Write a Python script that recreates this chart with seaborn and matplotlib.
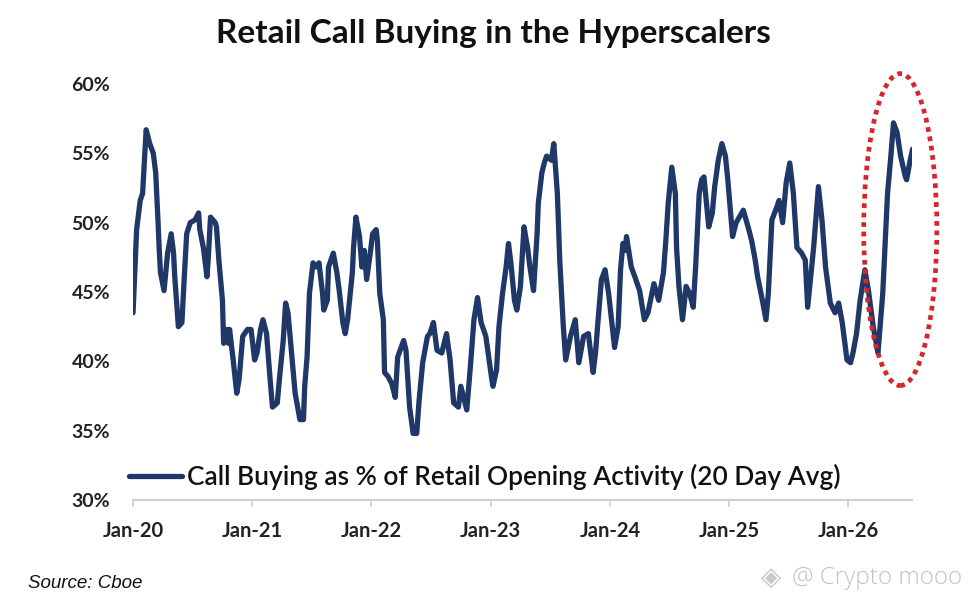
import numpy as np
import pandas as pd
import matplotlib
matplotlib.use("Agg")
import matplotlib.pyplot as plt
import matplotlib.dates as mdates
from matplotlib.patches import Ellipse
import seaborn as sns

# ---- data (decimal years, % values) ----
years = [
    2020.00, 2020.03, 2020.06, 2020.08, 2020.09, 2020.11, 2020.14, 2020.17, 2020.19, 2020.21,
    2020.22, 2020.23, 2020.26, 2020.29, 2020.32, 2020.34, 2020.35, 2020.38, 2020.41, 2020.43,
    2020.45, 2020.48, 2020.52, 2020.55, 2020.56, 2020.59, 2020.62, 2020.63, 2020.65, 2020.69,
    2020.70, 2020.72, 2020.75, 2020.76, 2020.79, 2020.80, 2020.81, 2020.84, 2020.87, 2020.89,
    2020.92, 2020.96, 2020.99, 2021.02, 2021.04, 2021.07, 2021.09, 2021.12, 2021.15, 2021.17,
    2021.21, 2021.23, 2021.26, 2021.28, 2021.30, 2021.33, 2021.36, 2021.40, 2021.43, 2021.44,
    2021.46, 2021.48, 2021.51, 2021.54, 2021.56, 2021.59, 2021.60, 2021.63, 2021.64, 2021.68,
    2021.71, 2021.73, 2021.76, 2021.78, 2021.80, 2021.84, 2021.85, 2021.87, 2021.90, 2021.92,
    2021.94, 2021.96, 2021.99, 2022.01, 2022.04, 2022.05, 2022.07, 2022.10, 2022.11, 2022.14,
    2022.17, 2022.20, 2022.22, 2022.27, 2022.29, 2022.32, 2022.35, 2022.38, 2022.40, 2022.43,
    2022.47, 2022.49, 2022.52, 2022.55, 2022.59, 2022.63, 2022.66, 2022.69, 2022.73, 2022.75,
    2022.80, 2022.83, 2022.86, 2022.89, 2022.92, 2022.96, 2023.01, 2023.02, 2023.05, 2023.07,
    2023.10, 2023.13, 2023.15, 2023.17, 2023.20, 2023.22, 2023.25, 2023.28, 2023.31, 2023.33,
    2023.36, 2023.39, 2023.40, 2023.43, 2023.45, 2023.47, 2023.51, 2023.53, 2023.56, 2023.58,
    2023.61, 2023.63, 2023.67, 2023.71, 2023.74, 2023.78, 2023.82, 2023.86, 2023.88, 2023.90,
    2023.93, 2023.96, 2023.99, 2024.04, 2024.07, 2024.09, 2024.11, 2024.13, 2024.14, 2024.18,
    2024.21, 2024.25, 2024.29, 2024.32, 2024.37, 2024.41, 2024.45, 2024.47, 2024.49, 2024.52,
    2024.55, 2024.56, 2024.58, 2024.61, 2024.64, 2024.67, 2024.70, 2024.72, 2024.75, 2024.77,
    2024.79, 2024.83, 2024.86, 2024.88, 2024.91, 2024.94, 2024.97, 2024.99, 2025.03, 2025.06,
    2025.12, 2025.16, 2025.19, 2025.22, 2025.24, 2025.28, 2025.31, 2025.33, 2025.36, 2025.40,
    2025.42, 2025.45, 2025.48, 2025.51, 2025.54, 2025.57, 2025.61, 2025.64, 2025.66, 2025.71,
    2025.75, 2025.78, 2025.81, 2025.85, 2025.89, 2025.92, 2025.95, 2025.99, 2026.02, 2026.04,
    2026.07, 2026.10, 2026.14, 2026.17, 2026.21, 2026.25, 2026.29, 2026.33, 2026.36, 2026.38,
    2026.41, 2026.44, 2026.48, 2026.49, 2026.52, 2026.54,
]
call_pct = [
    43.5, 49.5, 51.6, 52.1, 53.6, 56.7, 55.7, 55.0, 53.6, 50.0,
    48.0, 46.4, 45.1, 47.8, 49.2, 47.8, 46.1, 42.5, 42.8, 46.1,
    49.2, 50.0, 50.2, 50.7, 49.5, 48.2, 46.1, 47.3, 50.4, 50.0,
    49.7, 47.3, 44.4, 41.3, 42.3, 41.3, 42.3, 40.1, 37.7, 38.7,
    41.8, 42.3, 42.3, 40.1, 40.6, 42.3, 43.0, 42.0, 38.7, 36.7,
    37.0, 38.9, 41.5, 44.2, 43.5, 40.6, 37.7, 35.8, 35.8, 38.2,
    40.3, 44.9, 47.1, 46.8, 47.1, 44.9, 43.7, 44.4, 46.8, 47.8,
    46.4, 45.1, 42.8, 42.0, 43.0, 46.4, 48.2, 50.4, 49.0, 46.8,
    48.0, 45.9, 47.8, 49.2, 49.5, 48.7, 44.9, 43.0, 39.2, 38.9,
    38.4, 37.4, 40.3, 41.5, 40.8, 36.7, 34.8, 34.8, 37.2, 39.9,
    41.8, 42.0, 42.8, 40.8, 40.6, 42.0, 40.1, 37.0, 36.7, 38.2,
    36.5, 39.6, 43.0, 44.6, 42.8, 41.8, 38.7, 38.2, 39.4, 42.5,
    44.9, 46.8, 48.5, 47.1, 44.4, 43.7, 45.4, 49.7, 48.2, 46.8,
    45.1, 49.2, 51.4, 53.6, 54.3, 54.8, 54.5, 55.7, 52.1, 47.3,
    42.5, 40.1, 41.8, 43.0, 39.9, 41.8, 42.0, 39.2, 40.6, 42.8,
    45.9, 46.6, 44.9, 41.0, 42.5, 46.6, 48.5, 48.0, 49.0, 46.8,
    46.1, 45.1, 43.0, 43.5, 45.6, 44.4, 46.4, 48.7, 51.4, 54.0,
    52.1, 48.2, 45.4, 43.0, 45.4, 44.9, 43.9, 46.8, 52.1, 53.1,
    53.3, 49.7, 50.7, 52.6, 54.5, 55.7, 54.8, 53.1, 49.0, 50.0,
    50.9, 49.7, 48.7, 47.3, 46.1, 44.4, 43.0, 44.9, 50.2, 51.1,
    51.6, 50.0, 52.9, 54.3, 52.1, 48.2, 47.8, 47.3, 43.9, 48.2,
    52.6, 50.2, 46.8, 44.2, 43.5, 44.2, 42.8, 40.1, 39.9, 40.6,
    42.0, 44.4, 46.6, 45.1, 42.5, 40.6, 44.9, 52.1, 55.0, 57.2,
    56.5, 54.8, 53.3, 53.1, 54.5, 55.3,
]
tick_years = [2020, 2021, 2022, 2023, 2024, 2025, 2026]
tick_labels = ["Jan-20", "Jan-21", "Jan-22", "Jan-23", "Jan-24", "Jan-25", "Jan-26"]
y_ticks = [30, 35, 40, 45, 50, 55, 60]
series_label = "Call Buying as % of Retail Opening Activity (20 Day Avg)"
title = "Retail Call Buying in the Hyperscalers"
source = "Source: Cboe"
watermark = "@ Crypto mooo"

def to_date(y):
    y = np.asarray(y, dtype=float)
    return pd.to_datetime("2020-01-01") + pd.to_timedelta((y - 2020.0) * 365.25, unit="D")

df = pd.DataFrame({"date": to_date(years), "pct": call_pct})

sns.set_theme(style="white")
plt.rcParams["font.family"] = ["Lato", "DejaVu Sans"]

navy = "#1f3868"
fig = plt.figure(figsize=(9.74, 6.03), dpi=100)
ax = fig.add_axes([0.1366, 0.1708, 0.7997, 0.6899])

sns.lineplot(data=df, x="date", y="pct", ax=ax, color=navy, linewidth=3.8,
             label=series_label, solid_joinstyle="round")

ax.set_ylim(30, 60)
ax.set_xlim(to_date([2020.0])[0], to_date([2026.535])[0])
ax.set_yticks(y_ticks)
ax.set_yticklabels([f"{v}%" for v in y_ticks], fontsize=14, fontweight="bold", color="#222222")
ax.set_xticks(to_date(tick_years))
ax.set_xticklabels(tick_labels, fontsize=14.5, fontweight="bold", color="#222222")
ax.set_xlabel("")
ax.set_ylabel("")
for s in ["top", "right", "left"]:
    ax.spines[s].set_visible(False)
ax.spines["bottom"].set_color("#d0d0d0")
ax.spines["bottom"].set_linewidth(1.5)
ax.tick_params(axis="x", which="major", bottom=True, length=5, width=1.2, color="#d0d0d0", pad=10)
ax.tick_params(axis="y", which="major", left=False, length=0, pad=16.5)
ax.grid(False)

# dotted red ellipse around recent surge
c = mdates.date2num(to_date([2026.437])[0])
ell = Ellipse((c, 49.5), width=224, height=22.5, fill=False, edgecolor="#d7262b",
              linewidth=3.4, linestyle=(0, (1, 1)), clip_on=False, zorder=5)
ax.add_patch(ell)

leg = ax.legend(loc="center left", bbox_to_anchor=(-0.005, 0.055), frameon=False,
                fontsize=18.9, handlelength=2.0, handletextpad=0.2, borderaxespad=0,
                borderpad=0)
for t in leg.get_texts():
    t.set_color("#111111")
    t.set_fontweight("semibold")

fig.text(0.507, 0.945, title, ha="center", va="center", fontsize=24, fontweight="bold",
         color="#111111")
fig.text(0.029, 0.033, source, ha="left", va="center", fontsize=13.5, style="italic",
         family="Liberation Sans", color="#111111")
fig.text(0.781, 0.042, "\u25C8", ha="left", va="center", fontsize=19, color="#c8c8c8",
         family="DejaVu Sans")
fig.text(0.813, 0.042, watermark, ha="left", va="center", fontsize=17.5, color="#c2c2c2",
         family="Open Sans", fontweight="light")

fig.savefig("out.png", dpi=100, facecolor="white")
